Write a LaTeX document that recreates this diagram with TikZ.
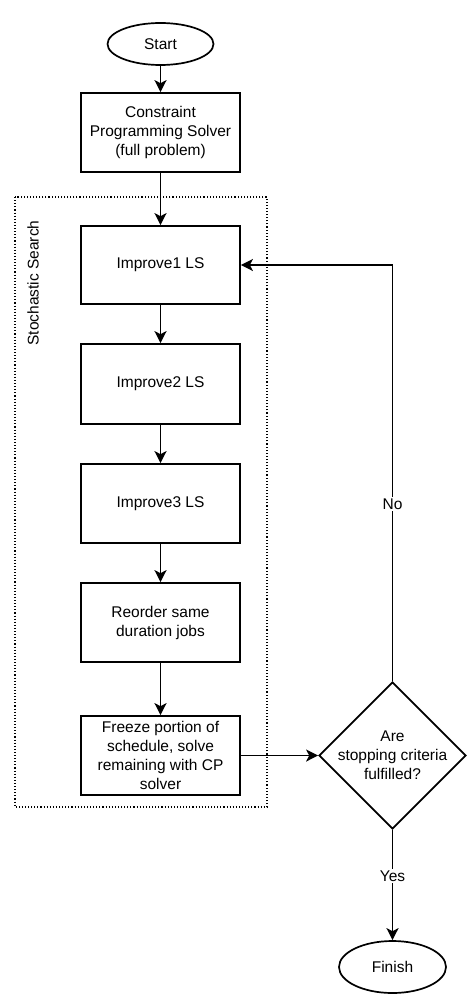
\documentclass[tikz,border=0pt]{standalone}
\usepackage{fontspec}
\setmainfont{Liberation Sans}
\usetikzlibrary{shapes.geometric,arrows.meta}
\begin{document}
\begin{tikzpicture}[x=1pt,y=-1pt,
  every node/.style={font=\fontsize{15.5}{19}\selectfont},
  procbox/.style={draw,line width=1.7pt,minimum width=159pt,minimum height=79pt,inner sep=0pt,align=center},
  terminal/.style={draw,ellipse,line width=1.7pt,inner sep=0pt},
  flow/.style={line width=1.6pt,-{Stealth[length=12pt,width=12pt,inset=3pt]}},
  lbl/.style={fill=white,inner sep=1.5pt}]
\useasboundingbox[fill=white] (0,0) rectangle (474,1006);
\draw[dotted,line width=1.1pt] (15,197) rectangle (267,807);
\node[rotate=90] (grp) at (33,283) {Stochastic Search};
\node[terminal,minimum width=106pt,minimum height=42pt] (start) at (160.5,44) {Start};
\node[procbox] (cp) at (160.5,132.5) {Constraint\\Programming Solver\\(full problem)};
\node[procbox,minimum height=78pt] (i1) at (160.5,265) {Improve1 LS};
\node[procbox,minimum height=80pt] (i2) at (160.5,384) {Improve2 LS};
\node[procbox] (i3) at (160.5,503.5) {Improve3 LS};
\node[procbox] (ro) at (160.5,622.5) {Reorder same\\duration jobs};
\node[procbox] (fz) at (160.5,755.5) {Freeze portion of\\schedule, solve\\remaining with CP\\solver};
\node[diamond,draw,line width=1.7pt,minimum width=147pt,minimum height=147pt,inner sep=0pt] (dec) at (392.5,755.5) {};
\node[align=center] (dect) at (dec.center) {Are\\stopping criteria\\fulfilled?};
\node[terminal,minimum width=107pt,minimum height=52pt] (fin) at (392.5,967) {Finish};
\coordinate (corner) at (dec.north |- i1.east);
\draw[flow] (start) -- (cp);
\draw[flow] (cp) -- (i1);
\draw[flow] (i1) -- (i2);
\draw[flow] (i2) -- (i3);
\draw[flow] (i3) -- (ro);
\draw[flow] (ro) -- (fz);
\draw[flow] (fz.east) -- (dec.west);
\draw[flow] (dec.south) -- node[lbl,pos=0.42] {Yes} (fin.north);
\draw[flow] (dec.north) -- node[lbl,pos=0.425] {No} (corner) -- (i1.east);
\end{tikzpicture}
\end{document}
